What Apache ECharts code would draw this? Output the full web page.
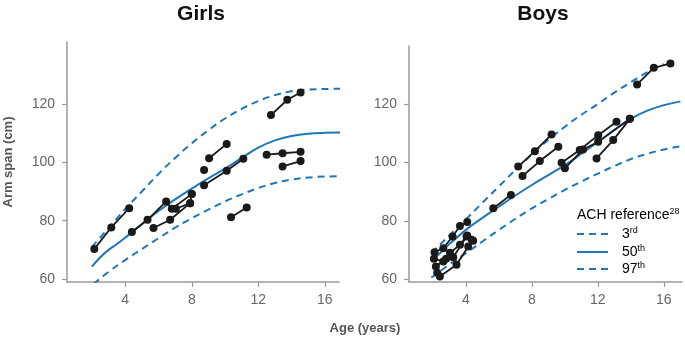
<!DOCTYPE html>
<html>
<head>
<meta charset="utf-8">
<script src="https://cdn.jsdelivr.net/npm/echarts@6/dist/echarts.min.js"></script>
<style>html,body{margin:0;padding:0;background:#fff}#c{width:685px;height:340px}</style>
</head>
<body>
<div id="c"></div>
<script>
// ---- Data ----
const xTicks = [4, 8, 12, 16];
const yTicks = [60, 80, 100, 120];

// Girls reference curves (ACH): [age, arm span]
const girls3rd  = [[2.1,58.3],[3,62.5],[4,66.5],[5,70.3],[6,74],[7,77.6],[8,80.8],[9,83.8],[10,86.6],[11,89],[12,91.2],[13,92.9],[14,94.1],[15,94.8],[16,95.1],[17,95.2]];
const girls50th = [[2,64.3],[2.5,67.5],[3,70],[3.5,72],[4,74.2],[5,78.8],[6,83.3],[7,87.3],[8,91],[9,94.5],[10,97.8],[11,101.5],[12,105],[13,107.5],[14,109],[15,109.8],[16,110.1],[17,110.2]];
const girls97th = [[2,71],[3,77.5],[4,84],[5,90],[6,96],[7,101.5],[8,106.5],[9,111],[10,115],[11,118.3],[12,121],[13,123],[14,124.3],[15,124.9],[16,125.1],[17,125.2]];

// Girls individual trajectories
const girlsTracks = [
  [[2.14,70.3],[3.16,77.7],[4.24,84.3]],
  [[4.4,76.1],[5.34,80.3],[6.46,86.6],[6.8,84.1],[8.0,89.1]],
  [[7.05,84.1],[7.9,86.0]],
  [[5.7,77.5],[6.7,80.3],[7.9,86.0],[8.0,89.1]],
  [[8.74,97.4]],
  [[8.74,92.1],[10.1,97.1],[11.1,101.2]],
  [[9.04,101.4],[10.1,106.3]],
  [[10.36,81.2],[11.3,84.5]],
  [[12.5,102.6],[13.46,103.1],[14.54,103.6]],
  [[13.46,98.6],[14.54,100.4]],
  [[12.76,116.2],[13.74,121.4],[14.54,123.9]]
];

// Boys reference curves (ACH)
const boys3rd  = [[1.9,60.5],[2,60.9],[3,65],[4,68.9],[5,72.9],[6,76.9],[7,80.7],[8,84.3],[9,87.5],[10,90.6],[11,93.5],[12,96.2],[13,98.8],[14,101.2],[15,103],[16,104.5],[17,105.6]];
const boys50th = [[1.9,66.2],[2,66.6],[3,72],[4,76.9],[5,81],[6,84.9],[7,88.7],[8,92.3],[9,95.7],[10,99.1],[11,103],[12,107.1],[13,111.2],[14,115],[15,117.8],[16,119.7],[17,121]];
const boys97th = [[1.9,69],[2,69.5],[3,75],[4,80.5],[5,86.2],[6,91.8],[7,97.4],[8,102.8],[9,107.8],[10,112.3],[11,116.4],[12,120.1],[13,124],[14,127.6],[15,131],[16,133.8]];

// Boys individual trajectories
const boysTracks = [
  [[2.1,69.2],[2.63,70.6],[3.19,74.6],[3.64,78.2],[4.08,79.6]],
  [[2.06,67.0],[2.63,66.0],[3.03,69.0],[3.64,71.8],[4.08,75.0],[4.35,73.5]],
  [[2.18,64.3],[2.8,67.0],[3.23,67.5],[4.04,74.6]],
  [[2.26,62.2],[2.42,60.9],[3.43,64.9],[4.14,71.2],[4.44,73.2]],
  [[5.66,84.3],[6.73,88.9]],
  [[7.17,98.6],[8.18,103.9],[9.19,109.6]],
  [[7.43,95.4],[8.48,100.5],[9.6,105.4]],
  [[9.8,99.9],[10.9,104.3],[12.02,109.4],[13.13,114.0]],
  [[10.0,98.0],[11.1,104.5],[12.02,107.1],[13.94,115.0]],
  [[11.92,101.4],[12.93,107.7],[13.94,115.0]],
  [[14.38,126.8],[15.39,132.5],[16.4,134.0]]
];

// ---- Styling ----
const BLUE = '#1f77b8';
const DOT = '#1a1a1a';
const FONT = 'Liberation Sans, Arial, sans-serif';
const DASH = [7, 5];

function xAxisCfg(idx, min, max) {
  return {
    type: 'value', gridIndex: idx, min: min, max: max,
    splitLine: {show: false},
    axisLine: {show: true, lineStyle: {color: '#9a9a9a', width: 1.5}},
    axisTick: {show: true, customValues: xTicks, length: 5, lineStyle: {color: '#9a9a9a', width: 1.2}},
    axisLabel: {customValues: xTicks, color: '#666', fontSize: 14, fontFamily: FONT, margin: 11}
  };
}
function yAxisCfg(idx, min, max, name) {
  return {
    type: 'value', gridIndex: idx, min: min, max: max,
    name: name || '', nameLocation: 'middle', nameGap: 52,
    nameTextStyle: {color: '#555', fontSize: 13, fontWeight: 'bold', fontFamily: FONT},
    splitLine: {show: false},
    axisLine: {show: true, lineStyle: {color: '#9a9a9a', width: 1.5}},
    axisTick: {show: true, customValues: yTicks, length: 5, lineStyle: {color: '#9a9a9a', width: 1.2}},
    axisLabel: {customValues: yTicks, color: '#666', fontSize: 14, fontFamily: FONT, margin: 12}
  };
}
function refSeries(idx, data, dashed) {
  return {
    type: 'line', xAxisIndex: idx, yAxisIndex: idx, data: data,
    smooth: 0.4, showSymbol: false, symbol: 'none', silent: true, z: 2,
    lineStyle: {color: BLUE, width: 2, type: dashed ? DASH : 'solid'}
  };
}
function trackSeries(idx, data) {
  return {
    type: 'line', xAxisIndex: idx, yAxisIndex: idx, data: data,
    symbol: 'circle', symbolSize: 8, showSymbol: true, z: 5,
    itemStyle: {color: DOT}, lineStyle: {color: DOT, width: 1.8}
  };
}

const series = [
  refSeries(0, girls3rd, true), refSeries(0, girls50th, false), refSeries(0, girls97th, true),
  refSeries(1, boys3rd, true), refSeries(1, boys50th, false), refSeries(1, boys97th, true)
];
girlsTracks.forEach(t => series.push(trackSeries(0, t)));
boysTracks.forEach(t => series.push(trackSeries(1, t)));

const supRich = {
  a: {fontSize: 14, color: '#555', fontFamily: FONT, lineHeight: 16},
  s: {fontSize: 9, color: '#555', fontFamily: FONT, lineHeight: 9, verticalAlign: 'top'}
};
function legText(x, y, main, sup) {
  return {type: 'text', left: x, top: y - 8, style: {text: '{a|' + main + '}{s|' + sup + '}', rich: supRich}};
}
function legLine(y, dashed) {
  return {type: 'line', shape: {x1: 577, y1: y, x2: 608, y2: y},
    style: {stroke: BLUE, lineWidth: 2, lineDash: dashed ? DASH : null}};
}

const option = {
  animation: false,
  backgroundColor: '#fff',
  grid: [
    {left: 67, top: 42, width: 272, height: 240},
    {left: 409, top: 46, width: 273, height: 236}
  ],
  xAxis: [xAxisCfg(0, 0.5, 16.85), xAxisCfg(1, 0.55, 17.1)],
  yAxis: [yAxisCfg(0, 59, 141.2, 'Arm span (cm)'), yAxisCfg(1, 59, 140)],
  series: series,
  graphic: [
    {type: 'text', x: 201, y: 14, style: {text: 'Girls', fontSize: 21, fontWeight: 'bold', fill: '#111', fontFamily: FONT, align: 'center', verticalAlign: 'middle'}},
    {type: 'text', x: 543, y: 14, style: {text: 'Boys', fontSize: 21, fontWeight: 'bold', fill: '#111', fontFamily: FONT, align: 'center', verticalAlign: 'middle'}},
    {type: 'text', x: 365, y: 328, style: {text: 'Age (years)', fontSize: 13, fontWeight: 'bold', fill: '#555', fontFamily: FONT, align: 'center', verticalAlign: 'middle'}},
    legText(577, 215, 'ACH reference', '28'),
    legLine(234, true), legText(622, 234, '3', 'rd'),
    legLine(252, false), legText(622, 252, '50', 'th'),
    legLine(269, true), legText(622, 269, '97', 'th')
  ]
};

const chart = echarts.init(document.getElementById('c'), null, {renderer: 'canvas'});
chart.setOption(option);
</script>
</body>
</html>
